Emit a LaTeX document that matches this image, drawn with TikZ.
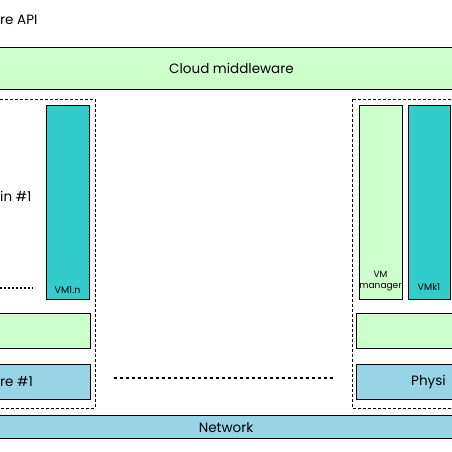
\documentclass[tikz,border=0pt]{standalone}
\usepackage{fontspec}
\setmainfont{Poppins}
\definecolor{mwgreen}{HTML}{CCFFCC}
\definecolor{vmteal}{HTML}{33CCCC}
\definecolor{hwblue}{HTML}{96D4E6}
\begin{document}
\begin{tikzpicture}[x=1pt,y=-1pt,
  box/.style={draw=black, line width=0.9pt, anchor=north west, inner sep=0pt, outer sep=0pt},
  greenbox/.style={box, fill=mwgreen},
  tealbox/.style={box, fill=vmteal},
  bluebox/.style={box, fill=hwblue},
  domainbox/.style={draw=black, line width=0.7pt, dash pattern=on 3pt off 2pt},
  lbl/.style={font=\fontsize{13.5}{16}\selectfont, inner sep=0pt},
  small/.style={font=\fontsize{9.5}{11}\selectfont, inner sep=0pt, align=center}]
\useasboundingbox (0,0) rectangle (452,452);
\clip (0,0) rectangle (452,452);
\fill[white] (0,0) rectangle (452,452);
% top text
\node[lbl, anchor=west] (api) at (0,20) {re API};
% cloud middleware
\node[greenbox, minimum width=503pt, minimum height=42pt] (mw) at (-20,47) {};
\node[lbl] (mwl) at (231.5,68) {Cloud middleware};
% left domain
\draw[domainbox] (-20,99) rectangle (95,408);
\node[tealbox, minimum width=43pt, minimum height=194pt] (vm1n) at (46,105) {};
\node[small, anchor=south] (vm1nl) at ([yshift=5pt]vm1n.south) {VM1.n};
\node[lbl, anchor=west] (dom1) at (0,196) {in \#1};
\coordinate (dl1) at (0,288);
\coordinate (dl2) at (33,288);
\draw[line width=1.5pt, dash pattern=on 2pt off 2pt] (dl1) -- (dl2);
\node[greenbox, minimum width=110pt, minimum height=35pt] (hv1) at (-20,313) {};
\node[bluebox, minimum width=110pt, minimum height=35pt] (hw1) at (-20,364) {};
\node[lbl, anchor=west] (hw1l) at (0,381.5) {re \#1};
% middle dots
\coordinate (md1) at (114,378);
\coordinate (md2) at (334,378);
\draw[line width=2.6pt, dash pattern=on 3pt off 3pt] (md1) -- (md2);
% right domain
\draw[domainbox] (352,99) rectangle (480,408);
\node[greenbox, minimum width=43pt, minimum height=194pt] (vmm) at (359,105) {};
\node[small, anchor=south, font=\fontsize{9}{11}\selectfont] (vmml) at ([yshift=8pt]vmm.south) {VM\\manager};
\node[tealbox, minimum width=42pt, minimum height=194pt] (vmk1) at (408,105) {};
\node[small, anchor=south] (vmk1l) at ([yshift=8pt]vmk1.south) {VMk1};
\node[greenbox, minimum width=120pt, minimum height=35pt] (hvk) at (356,313) {};
\node[bluebox, minimum width=120pt, minimum height=35pt] (hwk) at (356,364) {};
\node[lbl, anchor=west] (hwkl) at (411,382) {Physi};
% network
\node[bluebox, minimum width=492pt, minimum height=23pt] (net) at (-20,415) {};
\node[lbl] (netl) at (226,428) {Network};
\end{tikzpicture}
\end{document}
